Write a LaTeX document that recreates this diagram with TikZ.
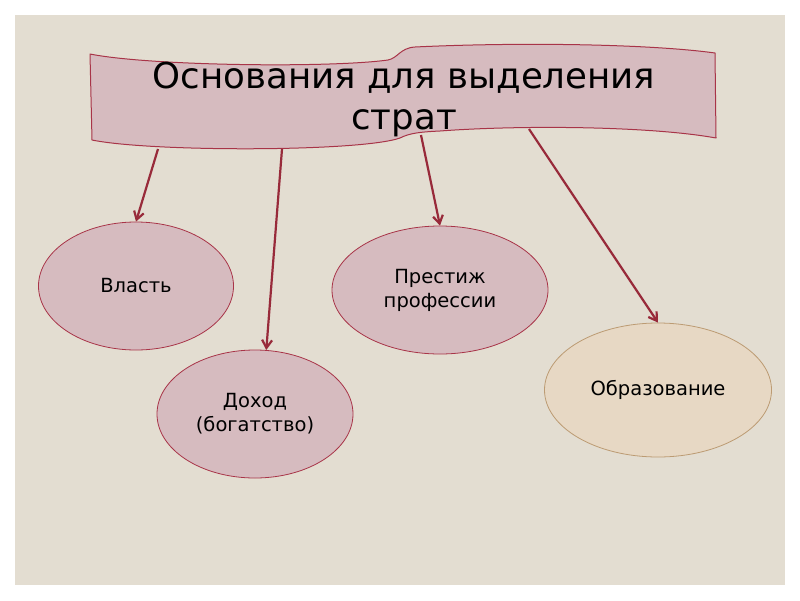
\documentclass[tikz,border=0pt]{standalone}
\usepackage{fontspec}
\setmainfont{DejaVu Sans}
\usetikzlibrary{arrows.meta,shapes.geometric}
\definecolor{pagebg}{RGB}{227,221,209}
\definecolor{rosefill}{RGB}{214,187,191}
\definecolor{roseline}{RGB}{168,52,72}
\definecolor{arrowred}{RGB}{152,42,58}
\definecolor{sandfill}{RGB}{231,216,196}
\definecolor{sandline}{RGB}{188,155,115}
\tikzset{
  oval/.style={ellipse, draw=roseline, fill=rosefill, line width=0.8pt, inner sep=0pt,
    align=center, font=\fontsize{19.5}{24}\selectfont},
  sandoval/.style={oval, draw=sandline, fill=sandfill},
  link/.style={draw=arrowred, line width=2.2pt, -{Straight Barb[length=8pt,width=10pt]}},
  titletext/.style={font=\fontsize{35.6}{41}\selectfont, inner sep=0pt, anchor=base},
  banner/.style={draw=roseline, fill=rosefill, line width=1pt, line join=round}
}
\begin{document}
\begin{tikzpicture}[x=1pt,y=-1pt]
\fill[white] (0,0) rectangle (800,600);
\useasboundingbox (0,0) rectangle (800,600);
\fill[pagebg] (15,15) rectangle (785,585);

% banner
\path[banner] (90,54) .. controls (150,66) and (330,68) .. (388,60)
  .. controls (398,58) and (400,48) .. (415,47)
  .. controls (520,42) and (650,44) .. (715,53)
  -- (716,138)
  .. controls (650,126) and (520,125) .. (440,131)
  .. controls (420,132) and (410,133) .. (400,138)
  .. controls (360,152) and (150,152) .. (92,140) -- cycle;

\node[titletext] (t1) at (404,88) {Основания для выделения};
\node[titletext] (t2) at (404,129) {страт};

% arrow starts on the banner's lower edge
\coordinate (s1) at (158,149);
\coordinate (s2) at (282,149);
\coordinate (s3) at (421,135);
\coordinate (s4) at (529,129);

% ellipses
\node[oval, minimum width=195, minimum height=128] (vl) at (136,286) {Власть};
\node[oval, minimum width=196, minimum height=128] (dh) at (255,414) {Доход\\(богатство)};
\node[oval, minimum width=216, minimum height=128] (pr) at (440,290) {Престиж\\профессии};
\node[sandoval, minimum width=227, minimum height=134] (ob) at (658,390) {Образование};

% connectors
\draw[link] (s1) -- (vl.north);
\draw[link] (s2) -- (dh.80);
\draw[link] (s3) -- (pr.north);
\draw[link] (s4) -- (ob.north);
\end{tikzpicture}
\end{document}
